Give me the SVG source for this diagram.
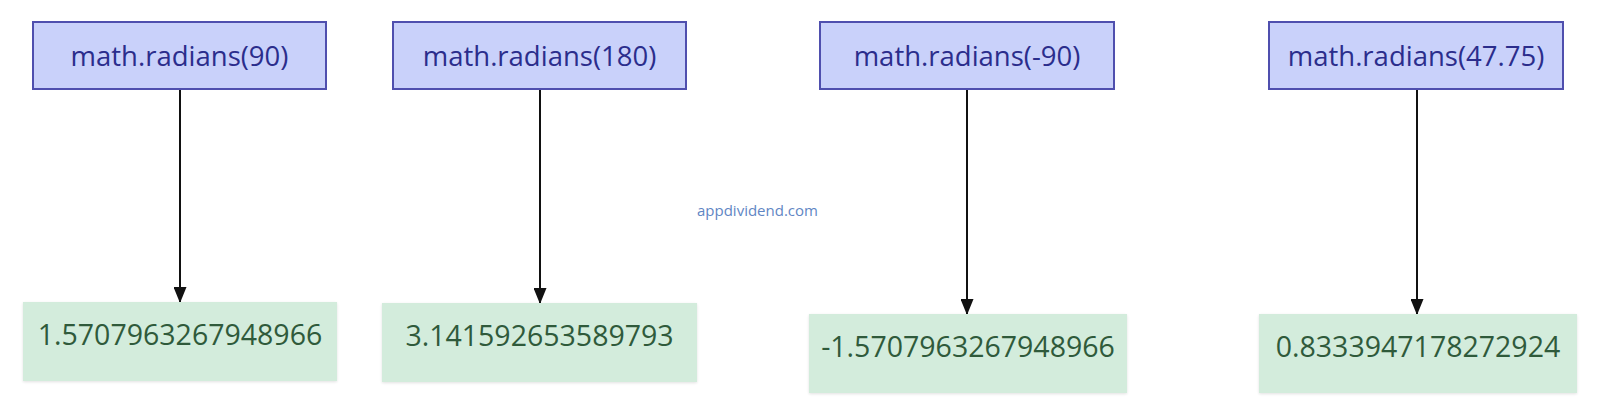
<svg xmlns="http://www.w3.org/2000/svg" width="1600" height="416" viewBox="0 0 1600 416">
<style>
.in rect{fill:#c9d1fa;stroke:#4f4fae;stroke-width:2}
.in text{font-family:"Open Sans","Noto Sans",sans-serif;font-size:27.5px;fill:#2b2d8c;text-anchor:middle}
.out rect{fill:#d3ecdc;filter:url(#sh)}
.out text{font-family:"Open Sans","Noto Sans",sans-serif;font-size:28.5px;font-weight:500;fill:#2f5a3b;text-anchor:middle}
.edge{stroke:#111;stroke-width:2;fill:none;marker-end:url(#ah)}
.wm{font-family:"Open Sans","Noto Sans",sans-serif;font-size:15px;fill:#5f86c4}
</style>
<defs>
<marker id="ah" viewBox="0 0 16 13" refX="16" refY="6.5" markerWidth="16" markerHeight="13" markerUnits="userSpaceOnUse" orient="auto">
<path d="M0,0 L16,6.5 L0,13 Z" fill="#111"/>
</marker>
<filter id="sh" x="-5%" y="-5%" width="110%" height="115%">
<feGaussianBlur in="SourceAlpha" stdDeviation="1.5"/>
<feOffset dx="0" dy="1" result="b"/>
<feComponentTransfer><feFuncA type="linear" slope="0.12"/></feComponentTransfer>
<feMerge><feMergeNode/><feMergeNode in="SourceGraphic"/></feMerge>
</filter>
</defs>
<rect width="1600" height="416" fill="#ffffff"/>
<g id="connectors">
<line class="edge" x1="180" y1="89" x2="180" y2="303"/>
<line class="edge" x1="540" y1="89" x2="540" y2="304"/>
<line class="edge" x1="967" y1="89" x2="967" y2="315"/>
<line class="edge" x1="1417" y1="89" x2="1417" y2="315"/>
</g>
<g id="in1" class="in"><rect x="33" y="22" width="293" height="67"/><text x="179.5" y="66">math.radians(90)</text></g>
<g id="in2" class="in"><rect x="393" y="22" width="293" height="67"/><text x="539.5" y="66">math.radians(180)</text></g>
<g id="in3" class="in"><rect x="820" y="22" width="294" height="67"/><text x="967" y="66">math.radians(-90)</text></g>
<g id="in4" class="in"><rect x="1269" y="22" width="294" height="67"/><text x="1416" y="66">math.radians(47.75)</text></g>
<g id="out1" class="out"><rect x="23" y="302" width="314" height="79"/><text x="180" y="345">1.5707963267948966</text></g>
<g id="out2" class="out"><rect x="382" y="303" width="315" height="79"/><text x="539.5" y="346">3.141592653589793</text></g>
<g id="out3" class="out"><rect x="809" y="314" width="318" height="79"/><text x="968" y="357">-1.5707963267948966</text></g>
<g id="out4" class="out"><rect x="1259" y="314" width="318" height="79"/><text x="1418" y="357">0.8333947178272924</text></g>
<text class="wm" x="697" y="216">appdividend.com</text>
</svg>
